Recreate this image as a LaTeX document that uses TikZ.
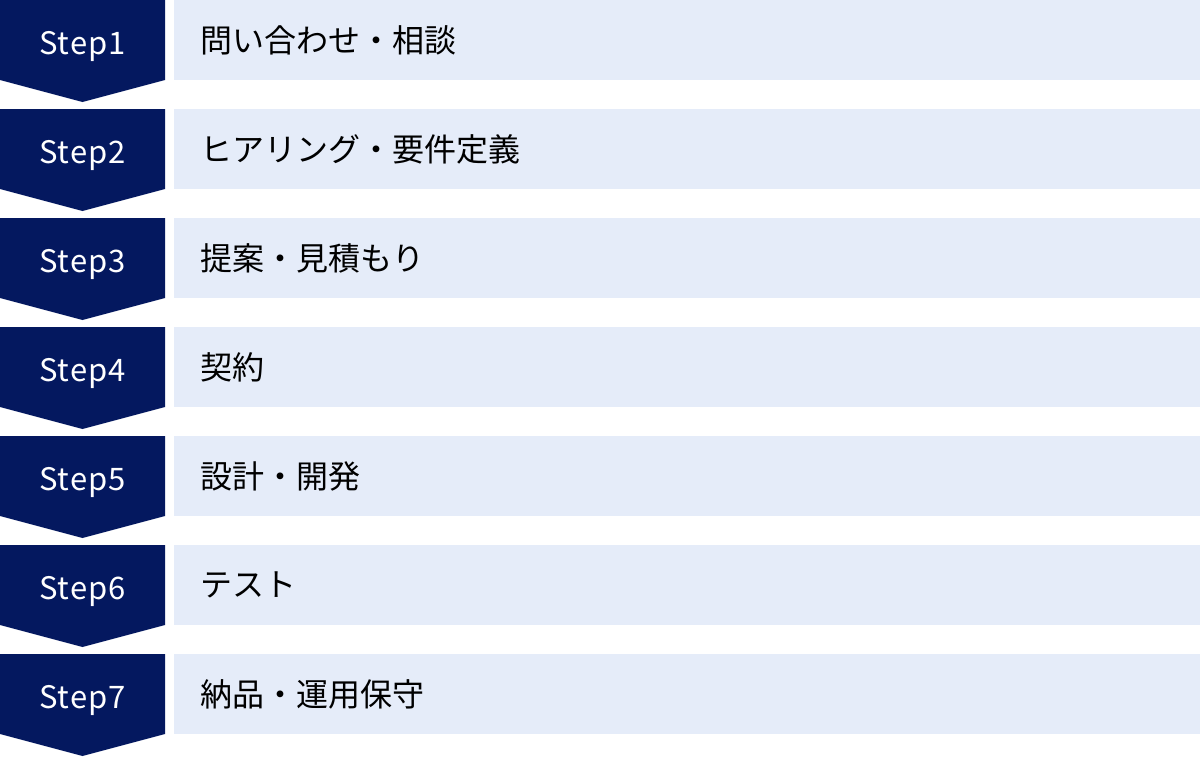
\documentclass[tikz,border=0pt]{standalone}
\usepackage{fontspec}
\usepackage{tikz}
\usetikzlibrary{positioning}
\newfontfamily\jpfont{Noto Sans CJK JP}
\newfontfamily\tagfont[LetterSpace=3]{Noto Sans CJK JP}
\definecolor{navy}{HTML}{04185F}
\definecolor{paleblue}{HTML}{E5ECF9}

\begin{document}
\begin{tikzpicture}[
            x = 1pt, y = -1pt, % pixel units, y downwards
            node distance = 29pt, % gap between rows
            outer sep = 0pt,
            semithick
        ]

        \tikzstyle{item}=[
            fill = paleblue,
            anchor = north west,
            minimum height = 80pt,
            text width = 974pt,
            inner xsep = 26pt,
            inner ysep = 0pt,
            align = left,
            font = \jpfont\fontsize{32}{32}\selectfont
        ]
        \tikzstyle{chevron}=[fill = navy]
        \tikzstyle{steptag}=[
            text = white,
            anchor = base,
            inner sep = 0pt,
            font = \tagfont\fontsize{31}{31}\selectfont
        ]

        \useasboundingbox (0,0) rectangle (1200,756);

        % step 1
        \node[item] (I1) at (174,0) {問い合わせ・相談};
        \fill[chevron] ([xshift=-174pt]I1.north west) -- ++(165,0) -- ++(0,80) -- ++(-82.5,22) -- ++(-82.5,-22) -- cycle;
        \node[steptag] (S1) at ([xshift=-91.5pt, yshift=-14pt]I1.west) {Step1};

        % step 2
        \node[item, below = of I1] (I2) {ヒアリング・要件定義};
        \fill[chevron] ([xshift=-174pt]I2.north west) -- ++(165,0) -- ++(0,80) -- ++(-82.5,22) -- ++(-82.5,-22) -- cycle;
        \node[steptag] (S2) at ([xshift=-91.5pt, yshift=-14pt]I2.west) {Step2};

        % step 3
        \node[item, below = of I2] (I3) {提案・見積もり};
        \fill[chevron] ([xshift=-174pt]I3.north west) -- ++(165,0) -- ++(0,80) -- ++(-82.5,22) -- ++(-82.5,-22) -- cycle;
        \node[steptag] (S3) at ([xshift=-91.5pt, yshift=-14pt]I3.west) {Step3};

        % step 4
        \node[item, below = of I3] (I4) {契約};
        \fill[chevron] ([xshift=-174pt]I4.north west) -- ++(165,0) -- ++(0,80) -- ++(-82.5,22) -- ++(-82.5,-22) -- cycle;
        \node[steptag] (S4) at ([xshift=-91.5pt, yshift=-14pt]I4.west) {Step4};

        % step 5
        \node[item, below = of I4] (I5) {設計・開発};
        \fill[chevron] ([xshift=-174pt]I5.north west) -- ++(165,0) -- ++(0,80) -- ++(-82.5,22) -- ++(-82.5,-22) -- cycle;
        \node[steptag] (S5) at ([xshift=-91.5pt, yshift=-14pt]I5.west) {Step5};

        % step 6
        \node[item, below = of I5] (I6) {テスト};
        \fill[chevron] ([xshift=-174pt]I6.north west) -- ++(165,0) -- ++(0,80) -- ++(-82.5,22) -- ++(-82.5,-22) -- cycle;
        \node[steptag] (S6) at ([xshift=-91.5pt, yshift=-14pt]I6.west) {Step6};

        % step 7
        \node[item, below = of I6] (I7) {納品・運用保守};
        \fill[chevron] ([xshift=-174pt]I7.north west) -- ++(165,0) -- ++(0,80) -- ++(-82.5,22) -- ++(-82.5,-22) -- cycle;
        \node[steptag] (S7) at ([xshift=-91.5pt, yshift=-14pt]I7.west) {Step7};

  \end{tikzpicture}
\end{document}
